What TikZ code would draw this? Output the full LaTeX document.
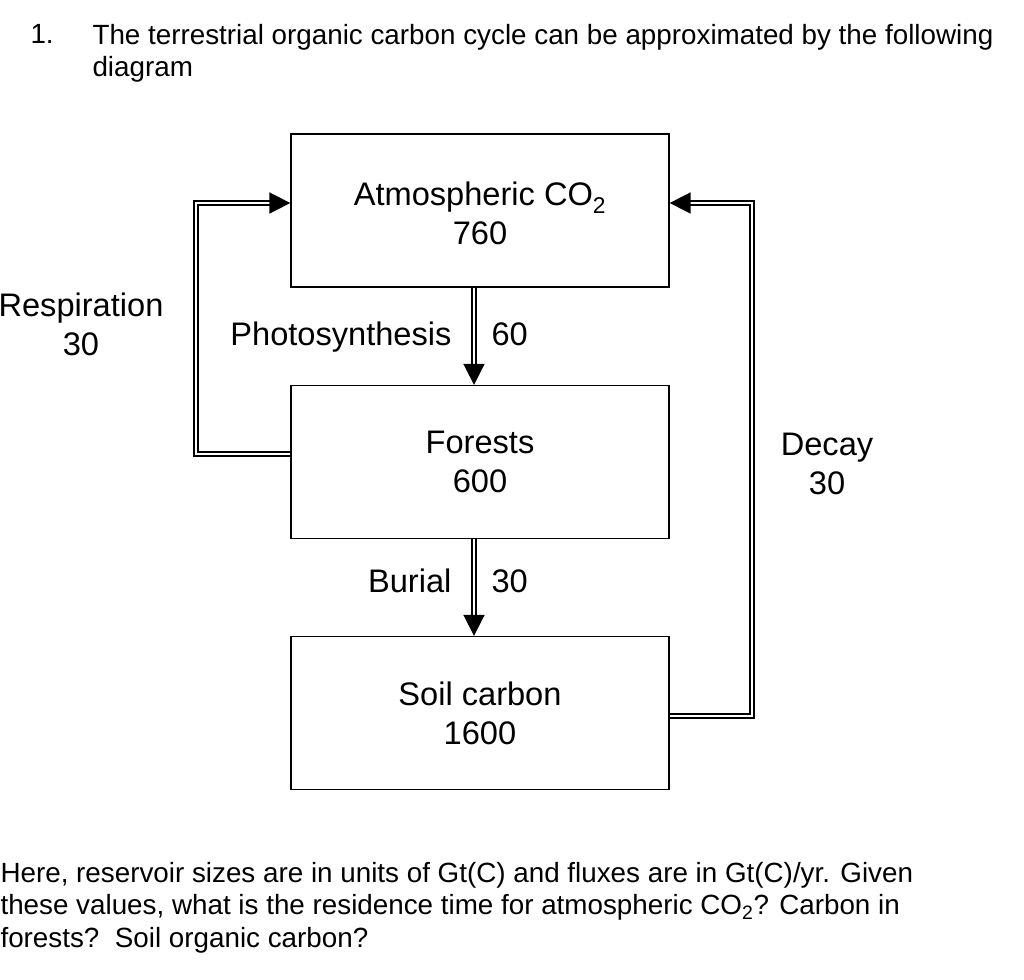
\documentclass[tikz,border=0pt]{standalone}
\usepackage{fontspec}
\setmainfont{Liberation Sans}
\usetikzlibrary{arrows.meta}
\begin{document}
\begin{tikzpicture}[x=1pt,y=-1pt,
        reservoir/.style={draw,line width=1.3pt,minimum width=378pt,minimum height=153pt,align=center,font=\fontsize{32.6}{39}\selectfont},
        label/.style={align=center,font=\fontsize{32.6}{39}\selectfont},
        flow/.style={draw,double,double distance=2pt,line width=1.7pt,-{Triangle[length=21pt,width=21pt]}},
        body/.style={anchor=base west,align=left,font=\fontsize{27.8}{32.5}\selectfont}]
        \useasboundingbox (0,0) rectangle (1024,979);
        % reservoirs
        \node[reservoir] (atm) at (480,210.5) {\rule{0pt}{30pt}Atmospheric CO\textsubscript{2}\\760};
        \node[reservoir] (forests) at (480,462) {Forests\\600};
        \node[reservoir] (soil) at (480,713) {Soil carbon\\1600};
        % fluxes
        \coordinate (resp) at (196,203); \coordinate (decay) at (752,203);
        \draw[flow] (forests.west |- 0,454) -| (resp) -- (atm.west |- resp);
        \draw[flow] (soil.east |- 0,716) -| (decay) -- (atm.east |- decay);
        \draw[flow] (atm.south -| 474,0) -- (forests.north -| 474,0);
        \draw[flow] (forests.south -| 474,0) -- (soil.north -| 474,0);
        \node[label] (respl) at (81,324) {Respiration\\30};
        \node[label,anchor=base east] (photo) at (455,345) {Photosynthesis};
        \node[label,anchor=base west] (photov) at (488,345) {60};
        \node[label,anchor=base east] (burial) at (455,592) {Burial};
        \node[label,anchor=base west] (burialv) at (488,592) {30};
        \node[label] (decayl) at (827,464) {Decay\\30};
        % question text
        \node[body] (num) at (27,44) {1.};
        \node[body] (title) at (89,77) {The terrestrial organic carbon cycle can be approximated by the following\\diagram};
        \node[body] (question) at (-3,947) {Here, reservoir sizes are in units of Gt(C) and fluxes are in Gt(C)/yr. Given\\these values, what is the residence time for atmospheric CO\textsubscript{2}? Carbon in\\forests?\ \ Soil organic carbon?};
\end{tikzpicture}
\end{document}
